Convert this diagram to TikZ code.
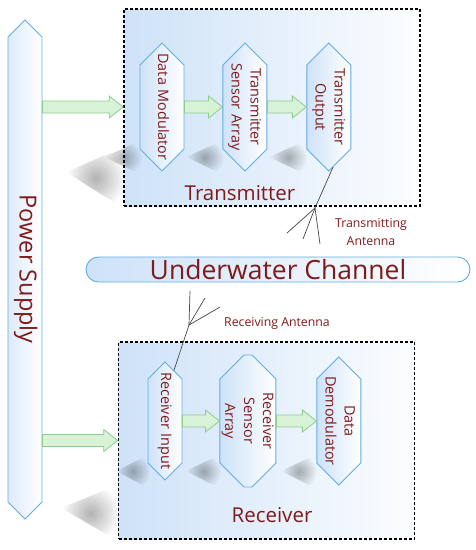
\documentclass[tikz,border=0pt]{standalone}
\usepackage{fontspec}
\setmainfont{Open Sans}
\usepackage{tikz}
\usetikzlibrary{shapes,arrows,positioning,calc,fadings}
\definecolor{textred}{RGB}{128,26,26}
\definecolor{edgeblue}{RGB}{100,172,228}
\definecolor{paleblue}{RGB}{206,226,248}
\definecolor{arrowgreen}{RGB}{140,205,140}
\definecolor{palegreen}{RGB}{216,242,216}
\definecolor{wire}{RGB}{70,70,70}
\tikzfading[name=softfade, inner color=transparent!0, outer color=transparent!100]
\tikzset{>=latex', node distance=38pt, font=\fontsize{14.4}{19}\selectfont, text=textred}
\tikzstyle{block} = [draw=edgeblue, line width=0.9pt, chamfered rectangle, chamfered rectangle xsep=12pt, chamfered rectangle ysep=12pt, left color=paleblue, right color=white, text width=20pt, text height=54pt, text depth=54pt, align=center, inner sep=0pt]
\tikzstyle{unit} = [draw=black, line width=1.6pt, dash pattern=on 3pt off 2pt, left color=paleblue, right color=white!94!paleblue, minimum width=296pt, minimum height=197pt, inner sep=0pt]
\tikzstyle{channel} = [draw=edgeblue, line width=0.9pt, rounded corners=12.5pt, left color=paleblue, right color=white, minimum width=384pt, minimum height=25pt, inner sep=0pt, font=\fontsize{26.5}{26.5}\selectfont]
\tikzstyle{supply} = [draw=edgeblue, line width=0.9pt, signal, signal to=north and south, left color=paleblue!70, right color=white, minimum width=34pt, minimum height=465pt, inner sep=0pt, font=\fontsize{23.5}{23.5}\selectfont]
\tikzstyle{caption} = [font=\fontsize{20.5}{20.5}\selectfont]
\tikzstyle{note} = [font=\fontsize{12.3}{18}\selectfont, align=center]
\tikzstyle{fatarrow} = [draw=arrowgreen, fill=palegreen, line width=0.8pt]
\tikzstyle{antenna} = [draw=wire, line width=0.7pt]
\tikzstyle{shadowfill} = [fill=black, fill opacity=0.3, path fading=softfade]
\newcommand{\vtext}[1]{\makebox[0pt]{\smash{\raisebox{-0.25em}{\rotatebox[origin=c]{-90}{\begin{tabular}{@{}c@{}}#1\end{tabular}}}}}}
\newcommand{\fatarrow}[2]{\path[fatarrow] let \p1=#1, \p2=#2 in (\x1,\y1+6pt) -- (\x2-14pt,\y1+6pt) -- (\x2-14pt,\y1+11pt) -- (\x2,\y1) -- (\x2-14pt,\y1-11pt) -- (\x2-14pt,\y1-6pt) -- (\x1,\y1-6pt) -- cycle;}

\begin{document}
\begin{tikzpicture}[x=1pt, y=-1pt]
	\useasboundingbox (0,0) rectangle (476,550);

	% cast shadows
	\fill[shadowfill] (66,172) -- (126,146) -- (126,210) -- cycle;
	\fill[shadowfill] (61,508) -- (120,484) -- (120,542) -- cycle;

	\node [unit] (tx) at (272,107.5) {};
	\node [unit] (rx) at (266.5,440.5) {};

	\fill[shadowfill] (104,157) -- (142,140) -- (142,175) -- cycle;
	\fill[shadowfill] (186,157) -- (224,140) -- (224,175) -- cycle;
	\fill[shadowfill] (269,157) -- (307,140) -- (307,175) -- cycle;
	\fill[shadowfill] (116,471) -- (150,454) -- (150,489) -- cycle;
	\fill[shadowfill] (186,471) -- (221,454) -- (221,489) -- cycle;
	\fill[shadowfill] (281,471) -- (317,454) -- (317,489) -- cycle;

	\node [supply] (power) at (25,269.5) {\vtext{Power Supply}};
	\node [channel] (water) at (278,269.5) {Underwater Channel};

	\node [block] (mod) at (162,107) {\vtext{Data Modulator}};
	\node [block, right=38pt of mod] (txarray) {\vtext{Transmitter\\Sensor Array}};
	\node [block, right=39pt of txarray] (txout) {\vtext{Transmitter\\Output}};
	\node [caption] (txlabel) at (240,193) {Transmitter};

	\node [block, text width=10pt] (rxin) at (165,421) {\vtext{Receiver Input}};
	\node [block, text width=32pt, right=37pt of rxin] (rxarray) {\vtext{Receiver\\Sensor\\Array}};
	\node [block, right=40pt of rxarray] (demod) {\vtext{Data\\Demodulator}};
	\node [caption] (rxlabel) at (272,515) {Receiver};

	\node [note] (txant) at (371,232) {Transmitting\\Antenna};
	\node [note] (rxant) at (277,323) {Receiving Antenna};

	% power and data flow
	\fatarrow{(power.east |- mod)}{(tx.west |- mod)}
	\fatarrow{(mod.east)}{(txarray.west)}
	\fatarrow{(txarray.east)}{(txout.west)}
	\fatarrow{(power.east |- rx.west)}{(rx.west)}
	\fatarrow{(rxin.east)}{(rxarray.west)}
	\fatarrow{(rxarray.east)}{(demod.west)}

	% antennas
	\coordinate (tjoint) at (315,208);
	\coordinate (tleg1) at (287,233);
	\coordinate (tleg2) at (303,239);
	\coordinate (tleg3) at (320,244);
	\draw [antenna] (txout.-86) -- (tjoint);
	\draw [antenna] (tjoint) -- (tleg1);
	\draw [antenna] (tjoint) -- (tleg2);
	\draw [antenna] (tjoint) -- (tleg3);

	\coordinate (rjoint) at (189,325);
	\coordinate (rleg1) at (190,291);
	\coordinate (rleg2) at (205,298);
	\coordinate (rleg3) at (220,307);
	\draw [antenna] (rxin.80) -- (rjoint);
	\draw [antenna] (rjoint) -- (rleg1);
	\draw [antenna] (rjoint) -- (rleg2);
	\draw [antenna] (rjoint) -- (rleg3);
\end{tikzpicture}
\end{document}
